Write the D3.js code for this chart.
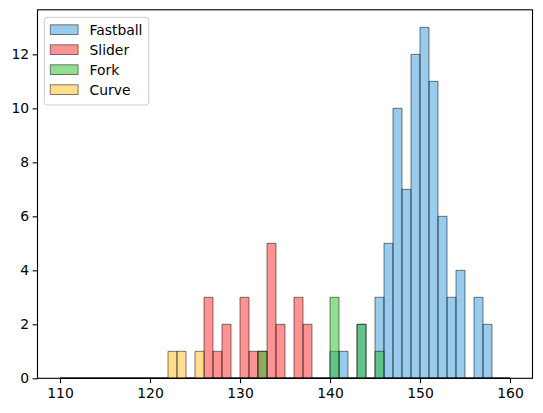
<!DOCTYPE html>
<html>
<head>
<meta charset="utf-8">
<script src="https://cdn.jsdelivr.net/npm/d3@7"></script>
<style>
body{margin:0;background:#fff;}
svg{display:block;font-family:"DejaVu Sans",sans-serif;}
</style>
</head>
<body>
<svg id="chart" width="543" height="413"></svg>
<script>
// Histogram bins: width 1, from 110 to 160
const binStart = 110, binEnd = 160;
const seriesNames = ["Fastball", "Slider", "Fork", "Curve"];
// Non-empty bins (left edge) and counts for each series
const fastballBins   = [140,141,143,145,146,147,148,149,150,151,152,153,154,156,157];
const fastballCounts = [1,  1,  2,  3,  5,  10, 7,  12, 13, 11, 6,  3,  4,  3,  2];
const sliderBins     = [126,127,128,130,131,132,133,134,136,137];
const sliderCounts   = [3,  1,  2,  3,  1,  1,  5,  2,  3,  2];
const forkBins       = [132,140,143,145];
const forkCounts     = [1,  3,  2,  1];
const curveBins      = [122,123,125];
const curveCounts    = [1,  1,  1];
const xTicks = [110,120,130,140,150,160];
const yTicks = [0,2,4,6,8,10,12];

const colors = ["rgb(52,152,219)", "rgb(255,40,40)", "rgb(40,190,40)", "rgb(255,190,30)"];

function fullHist(bins, counts){
  const out = [];
  for(let b = binStart; b < binEnd; b++){
    const i = bins.indexOf(b);
    out.push({x0:b, x1:b+1, n: i >= 0 ? counts[i] : 0});
  }
  return out;
}
const series = [
  fullHist(fastballBins, fastballCounts),
  fullHist(sliderBins, sliderCounts),
  fullHist(forkBins, forkCounts),
  fullHist(curveBins, curveCounts)
];

const L = 37.5, R = 532.5, T = 9.8, B = 378.3;
const svg = d3.select("#chart");
const x = d3.scaleLinear().domain([107.5, 162.5]).range([L, R]);
const maxN = d3.max(series.flat(), d => d.n);
const y = d3.scaleLinear().domain([0, maxN * 1.05]).range([B, T]);

// bars
series.forEach((s, k) => {
  svg.append("g").selectAll("path").data(s).join("path")
    .attr("d", d => {
      const x0 = x(d.x0), x1 = x(d.x1), y0 = y(0), y1 = y(d.n);
      return `M${x0},${y0}V${y1}H${x1}V${y0}Z`;
    })
    .attr("fill", colors[k]).attr("fill-opacity", 0.5)
    .attr("stroke", "black").attr("stroke-opacity", 0.5)
    .attr("stroke-width", 1);
});

// axes
const xAxis = d3.axisBottom(x).tickValues(xTicks).tickSize(4.86).tickPadding(3.5);
const yAxis = d3.axisLeft(y).tickValues(yTicks).tickSize(4.86).tickPadding(3.5);
const gx = svg.append("g").attr("transform", `translate(0,${B})`).call(xAxis);
const gy = svg.append("g").attr("transform", `translate(${L},0)`).call(yAxis);
[gx, gy].forEach(g => {
  g.select(".domain").remove();
  g.selectAll("line").attr("stroke", "black").attr("stroke-width", 1.1);
  g.selectAll("text").attr("fill", "black").style("font-size", "13.9px").style("font-family", "DejaVu Sans");
});
gx.selectAll("text").attr("dy", "0.85em");

// spines
svg.append("rect").attr("x", L).attr("y", T).attr("width", R - L).attr("height", B - T)
  .attr("fill", "none").attr("stroke", "black").attr("stroke-width", 1.1);

// legend
const lg = svg.append("g");
lg.append("rect").attr("x", 44.3).attr("y", 17.3).attr("width", 104.5).attr("height", 87.7)
  .attr("rx", 2.8).attr("fill", "white").attr("fill-opacity", 0.8)
  .attr("stroke", "#cccccc").attr("stroke-width", 1);
seriesNames.forEach((name, k) => {
  const cy = 29.7 + k * 20;
  lg.append("rect").attr("x", 50.3).attr("y", cy - 4.9).attr("width", 27.8).attr("height", 9.7)
    .attr("fill", colors[k]).attr("fill-opacity", 0.5)
    .attr("stroke", "black").attr("stroke-opacity", 0.5).attr("stroke-width", 1);
  lg.append("text").attr("x", 89.5).attr("y", cy).attr("dy", "0.36em")
    .style("font-size", "13.9px").attr("fill", "black").text(name);
});
</script>
</body>
</html>
